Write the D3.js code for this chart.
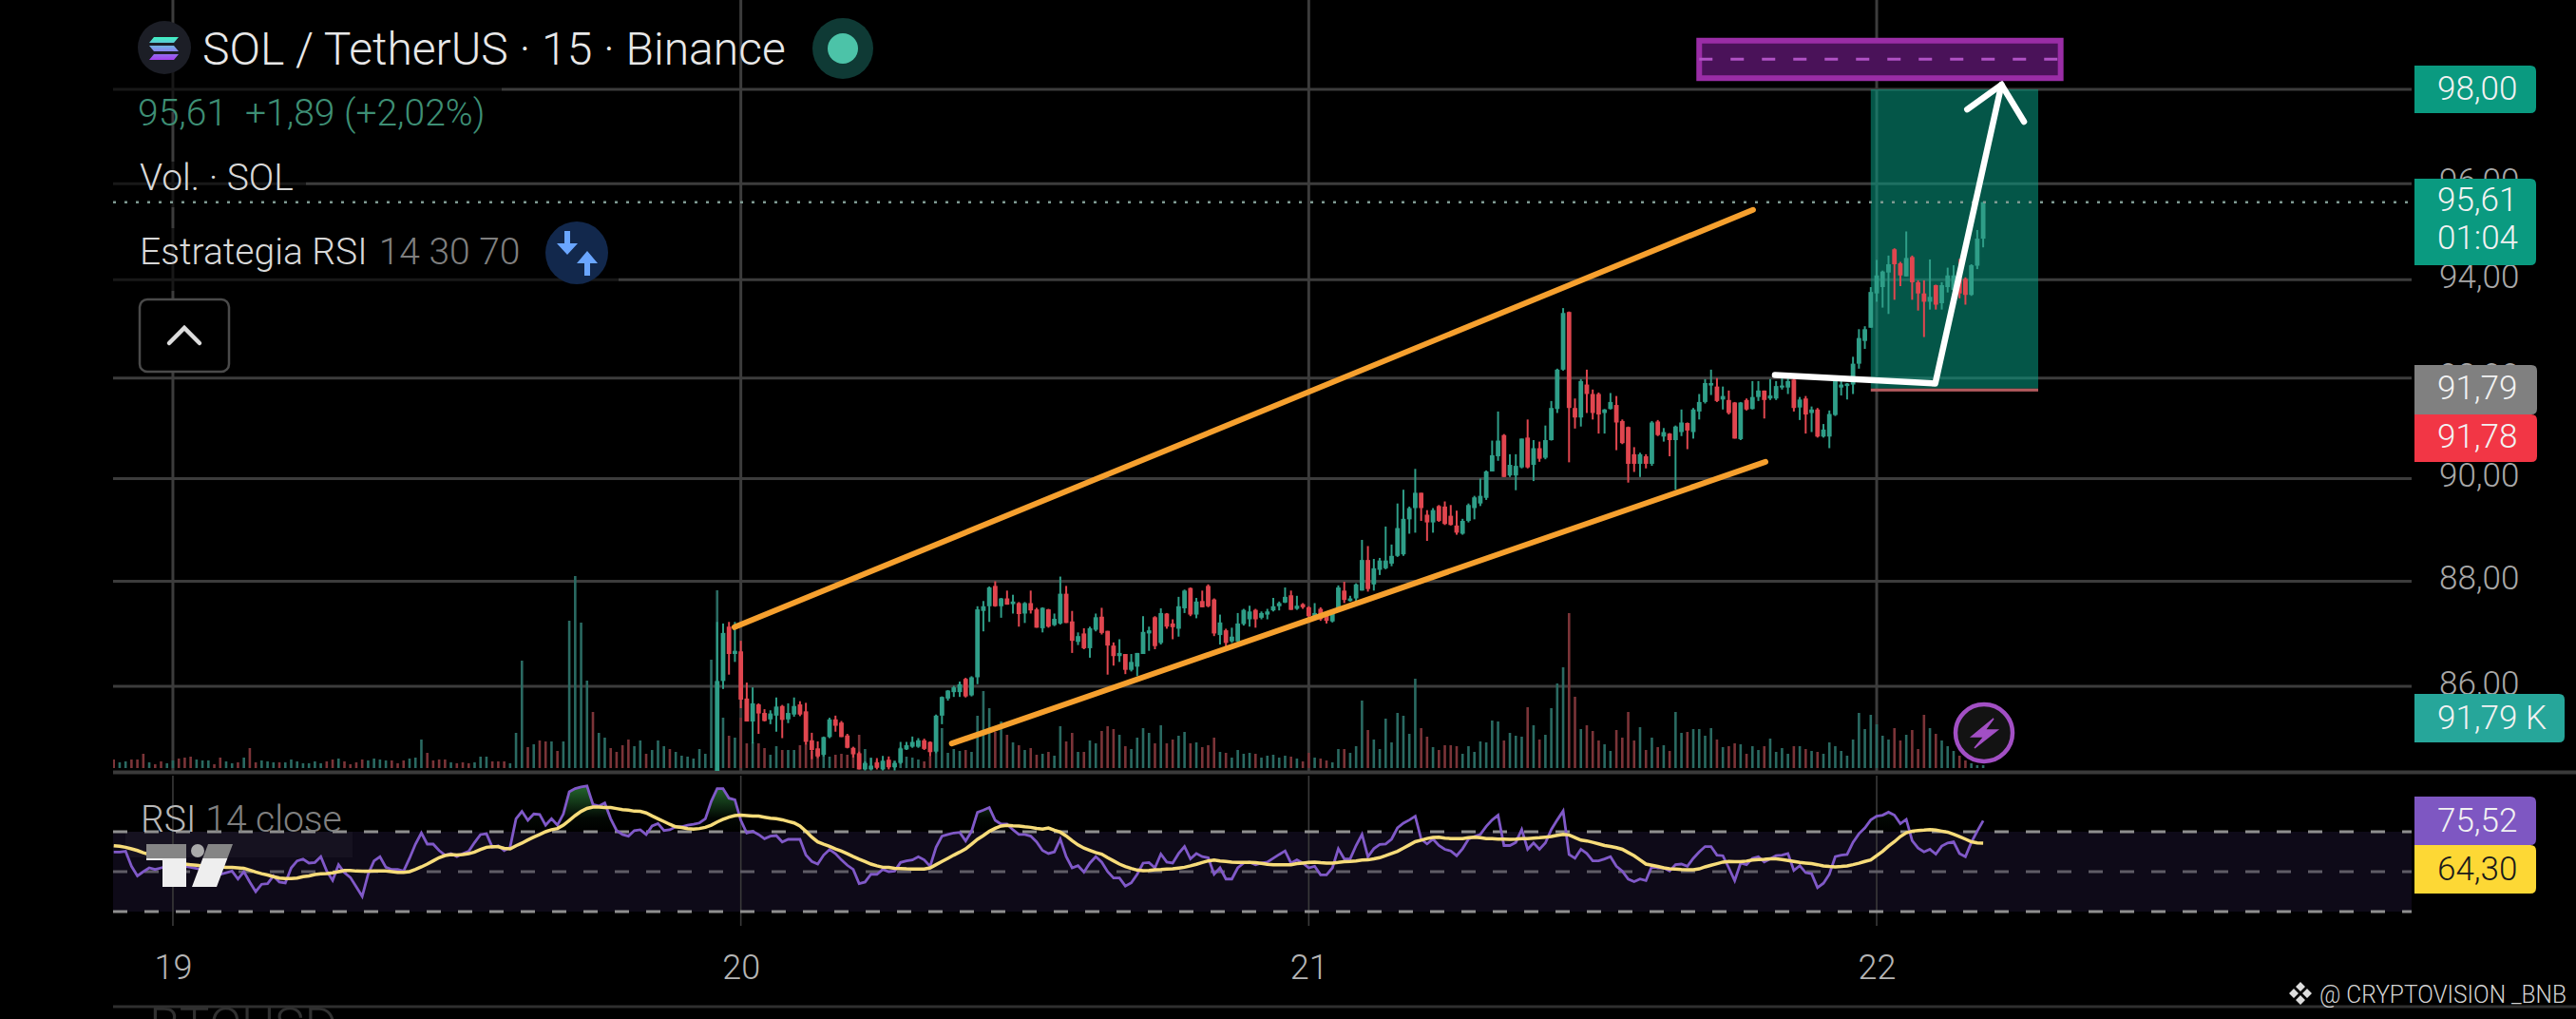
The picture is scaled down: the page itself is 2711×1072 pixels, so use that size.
<!DOCTYPE html>
<html><head><meta charset="utf-8">
<script src="https://cdn.jsdelivr.net/npm/d3@7/dist/d3.min.js"></script>
<style>html,body{margin:0;padding:0;background:#000;overflow:hidden}svg{display:block}text{font-family:Roboto,sans-serif;font-weight:300}</style>
</head><body><svg id="c" width="2711" height="1072"></svg>
<script>
// ---------- data ----------
const dayLabels=["19","20","21","22"];
const dayBars=[10,106,202,298];
const priceTicks=[98,96,94,92,90,88,86];
const firstCandle=102;
const opens=[84.2,86.10,87.13,86.61,86.66,85.77,85.34,85.66,85.5,85.38,85.45,85.63,85.38,85.47,85.66,85.53,84.99,84.84,84.72,85.05,85.38,85.32,85.08,84.85,84.75,84.45,84.45,84.58,84.45,84.63,84.49,84.57,84.82,84.87,84.87,84.99,84.96,84.78,85.45,85.77,85.89,85.89,86.14,85.83,86.17,87.43,87.52,87.91,87.52,87.67,87.56,87.58,87.38,87.58,87.46,87.1,87.46,87.16,87.19,87.76,87.23,86.84,87,86.72,87.07,87.32,87.05,86.77,86.57,86.61,86.31,86.37,
86.61,87,87.31,86.82,87.38,87.19,87.09,87.48,87.87,87.36,87.62,87.91,87.65,86.97,87.06,86.85,86.85,87.18,87.27,87.45,87.3,87.36,87.44,87.52,87.59,87.73,87.47,87.56,87.5,87.3,87.47,87.39,87.23,87.48,87.82,87.62,87.67,87.82,88.41,87.94,88.22,88.25,88.34,88.49,88.52,89.2,89.42,89.72,89.29,89.14,89.46,89.45,89.27,89.08,88.92,89.17,89.42,89.51,89.62,90.14,90.44,90.86,90.06,90.06,90.22,90.81,90.27,90.6,90.41,90.76,91.38,92.17,93.34,91.4,91.21,91.87,91.68,91.68,91.3,91.38,
91.46,91.14,91.02,90.48,90.29,90.44,90.29,91.13,90.83,90.89,90.76,90.92,91.1,90.92,91.33,91.52,91.85,91.83,91.57,91.56,91.51,90.78,91.56,91.38,91.62,91.75,91.59,91.59,91.81,91.81,91.97,91.41,91.59,91.3,91.37,90.83,90.83,91.26,91.81,91.84,91.87,92.29,92.75,
93.02,93.72,93.85,94.15,94.63,94.34,94.07,94.47,93.95,93.72,93.55,93.89,93.52,93.85,93.79,94.02,94.02,93.69,94.29,94.85];
const highs=[87.22,87.19,87.22,87.22,86.86,86.07,85.98,85.68,85.57,85.55,85.79,85.65,85.68,85.79,85.72,85.69,85.13,84.97,85.06,85.41,85.45,85.35,85.11,84.87,84.78,84.6,84.66,84.66,84.7,84.69,84.6,84.96,84.96,85.06,85.03,85.02,84.97,85.47,85.81,85.93,86.01,86.09,86.16,86.19,87.52,87.62,87.9,88,87.68,87.82,87.74,87.6,87.6,87.82,87.49,87.5,87.47,87.38,88.09,87.91,87.43,87.02,87.1,87.13,87.38,87.49,87.05,86.83,86.89,86.61,86.61,86.63,
87.33,87.13,87.33,87.48,87.39,87.27,87.7,87.84,87.88,87.68,87.82,87.94,87.67,87.36,87.09,87.11,87.39,87.47,87.53,87.47,87.42,87.47,87.68,87.61,87.88,87.82,87.72,87.58,87.52,87.58,87.5,87.42,87.45,87.92,87.99,87.72,87.96,88.8,88.68,88.43,88.45,89.06,88.71,89.51,89.78,89.45,90.19,89.72,89.38,89.42,89.48,89.55,89.48,89.37,89.21,89.51,89.66,90,90.16,90.75,91.33,90.88,90.48,90.48,90.79,91.17,90.76,90.73,91.05,91.54,92.19,93.42,93.35,91.59,91.98,92.17,91.77,91.71,91.38,91.7,
91.64,91.17,91.03,90.62,90.51,90.48,91.14,91.16,91,90.9,91.05,91.37,91.11,91.4,91.68,91.98,92.17,92,91.83,91.75,91.52,91.52,91.59,91.94,91.94,91.75,91.98,91.94,92.06,92.08,92,91.62,91.64,91.43,91.4,91.08,91.35,91.98,91.94,91.9,92.43,92.99,93.05,
93.85,94.41,94.19,94.5,94.65,94.37,95,94.5,93.99,93.99,94.42,93.9,93.95,94.25,94.3,94.43,94.05,94.32,95.03,95.61];
const lows=[84.1,85.95,86.22,86.46,85.59,85.34,84.93,85.11,85.34,85.29,85.15,85.03,85.31,85.43,85.44,84.91,84.64,84.66,84.69,85.03,85.15,85.05,84.84,84.67,84.45,84.43,84.43,84.45,84.43,84.45,84.43,84.55,84.81,84.85,84.85,84.81,84.69,84.75,85.29,85.73,85.8,85.8,85.79,85.81,86.04,87.04,87.22,87.51,87.3,87.55,87.38,87.13,87.2,87.38,87.11,87.02,87.11,87.14,87.17,87.2,86.63,86.78,86.7,86.54,87.04,86.98,86.22,86.39,86.46,86.23,86.28,86.19,
86.61,86.67,86.7,86.79,87.09,86.89,86.94,87.39,87.33,87.29,87.5,87.5,86.95,86.79,86.7,86.82,86.83,87.15,87.13,87.11,87.27,87.27,87.42,87.44,87.58,87.45,87.45,87.47,87.27,87.27,87.24,87.19,87.21,87.42,87.58,87.61,87.61,87.82,87.8,87.82,88.12,88.23,88.29,88.47,88.49,88.92,88.94,89.17,88.78,88.94,89.15,89.09,89.08,88.9,88.9,89.14,89.2,89.46,89.58,90.14,90.35,90.03,90.03,89.77,90.2,90.2,89.95,90.33,90.38,90.75,91.3,92.15,90.32,90.99,91.03,91.3,91.17,90.89,90.89,91.37,
90.56,90.68,89.92,90.13,90.03,90.2,90.25,90.84,90.73,90.44,89.78,90.84,90.58,90.79,91.17,91.49,91.66,91.52,91.37,91.27,90.79,90.76,91.35,91.37,91.54,91.19,91.56,91.56,91.77,91.68,91.33,91.16,90.89,90.92,90.81,90.81,90.6,91.24,91.65,91.57,91.68,92.19,92.59,
93.02,93.55,93.43,93.3,93.59,93.87,94.07,93.59,93.37,92.83,93.39,93.39,93.39,93.74,93.75,93.62,93.49,93.67,94.22,94.67];
const closes=[86.10,87.01,86.61,86.67,85.75,85.34,85.68,85.49,85.35,85.49,85.62,85.37,85.5,85.63,85.47,84.96,84.81,84.69,85.05,85.38,85.26,85.05,84.85,84.73,84.45,84.57,84.52,84.48,84.61,84.49,84.57,84.84,84.9,84.96,84.99,84.83,84.77,85.45,85.8,85.92,85.98,86.04,85.81,86.17,87.46,87.52,87.88,87.52,87.67,87.55,87.61,87.37,87.58,87.44,87.11,87.49,87.13,87.28,87.76,87.2,86.86,86.95,86.72,87.1,87.31,87.01,86.77,86.57,86.63,86.31,86.46,86.63,
87.03,87.06,86.76,87.39,87.13,87.12,87.52,87.82,87.36,87.61,87.5,87.52,87,87.21,86.82,86.94,87.19,87.45,87.42,87.27,87.39,87.42,87.52,87.58,87.7,87.45,87.53,87.5,87.33,87.39,87.27,87.24,87.42,87.88,87.64,87.67,87.94,88.41,87.85,88.25,88.4,88.4,88.49,89.03,89.21,89.42,89.72,89.42,89.14,89.38,89.17,89.11,89.09,88.94,89.17,89.48,89.63,89.66,90.14,90.46,90.75,90.03,90.27,90.25,90.79,90.22,90.6,90.39,90.76,91.4,92.17,93.32,91.4,91.21,91.94,91.68,91.3,91.27,91.37,91.52,
91.11,90.7,90.29,90.29,90.48,90.29,91.11,90.86,90.92,90.76,91.03,91.11,90.95,91.37,91.52,91.9,91.9,91.54,91.64,91.3,90.79,91.51,91.37,91.62,91.75,91.56,91.65,91.84,91.85,91.94,91.4,91.57,91.27,91.37,90.83,90.97,91.28,91.95,91.87,91.89,92.29,92.81,92.99,
93.75,94.09,94.17,94.32,94.32,94.09,94.45,93.95,93.72,93.55,93.65,93.49,93.89,94.09,94.09,93.72,93.69,94.3,94.85,95.61];
const earlyDirs="duuddduddu"+"uddduuuddu"+"ududduuudu"+"uuuuuuddud"+"ddduuuuddd"+"uuuddddudd"+"duuuddduuu"+"dudduduuuu"+"uduudddduu"+"duuuduuuuuuu";
const volumes=[9,6,7,9,9,15,6,4,7,5,8,10,11,12,9,8,8,4,11,7,5,6,11,21,6,8,7,6,6,6,9,7,5,5,7,5,7,9,10,7,4,6,9,8,10,9,8,8,5,8,10,11,30,16,8,9,9,6,5,6,5,6,12,12,7,7,7,5,37,113,22,25,29,28,28,18,28,155,202,153,92,59,37,32,21,17,24,30,23,29,15,19,29,23,20,17,13,12,10,20,15,114,187,53,34,32,53,26,27,26,21,14,23,19,19,19,24,26,18,17,19,12,14,15,14,18,35,20,11,8,8,5,8,22,12,11,9,7,12,29,42,16,20,18,19,17,55,81,63,38,49,35,27,24,19,21,14,15,17,13,44,28,37,17,17,29,26,39,44,41,35,23,20,32,42,37,26,45,26,30,34,38,26,27,22,24,32,17,16,11,19,15,16,15,11,13,14,11,13,12,10,7,16,11,10,8,6,20,20,16,23,71,40,30,20,52,27,58,55,36,94,42,33,22,19,24,24,23,15,23,17,28,27,50,49,29,37,34,33,64,45,30,35,63,89,106,163,75,41,45,39,29,25,18,40,32,59,29,43,19,32,22,24,18,59,37,38,41,41,34,42,30,22,23,26,25,15,23,19,23,31,17,21,15,23,23,20,18,17,15,27,23,18,13,30,58,41,56,46,34,30,42,29,35,40,20,56,42,36,29,23,18,13,8,5,3,3];
const rsiValues=[59.8,59.8,60.2,52.7,47.9,50,51.9,51.1,51.9,52.7,52.7,51.9,52.7,52.2,51.6,51.1,50.6,50,48.7,49.5,50.3,46.3,50,44.8,40,43.7,44,47.9,44.8,44.3,51.9,55.4,56.3,54.3,54.6,57.5,50.3,45.6,53.5,49.5,47.1,42.4,37.6,48.7,55.4,57.5,52.2,51.1,51.1,50.3,56.7,63.8,69.4,63.8,63.8,60.6,58.3,59,57.5,59,60.2,64.6,68.6,69,62.2,63,60.6,62.2,76.5,80.2,75.7,78.9,78.6,73.3,76.5,73.3,78.9,90,91.6,92.4,92.9,83.7,82.9,84.4,76.5,70.6,68.6,67.8,70.6,71,68.6,72.9,74.1,70.6,71,72.5,72.5,73.3,73.8,74.4,76.5,85.2,91.6,91.6,86.8,86,75.7,69.4,70.2,68.6,66.5,67.8,68.1,64.9,66.2,66.2,66.2,58.3,55.1,53.8,58.3,61.1,59,55.9,53.2,51.1,44,44.8,48.7,48.7,51.1,50,50.3,54.6,55.4,55.9,57.5,55.9,52.7,62.2,67.8,68.6,69.4,69.7,65.4,70.2,79.7,80.8,82.1,75.7,73.8,73.8,71,68.6,68.6,67.8,64.9,60.6,
59.1,59.9,66.3,57.5,51.9,53,49.8,54.3,57.5,54.8,50,46.8,46.8,42.8,44.4,48.7,54.3,54.6,51.9,58.8,54.8,54.3,59.1,62.6,56.4,59.1,57.5,57,48.7,51.9,46.3,46.3,51.9,54.3,54.8,53.5,54.3,54.8,56.7,58.6,60.4,54.3,55.9,54.3,51.9,52.7,48.4,48.4,51.9,61.5,56.4,56.4,63.1,68.7,57.5,61.5,63.6,63.9,66.3,71.9,74.3,75.9,77.8,66.3,63.9,66.3,63.1,61.2,60.4,58,61.5,66.3,67.6,68.7,72.7,75.9,78.3,63.1,63.1,64.7,71.1,61.2,64.4,61.2,64.4,71.1,75.9,80.4,58.6,56.7,61.2,59.1,55.4,55.4,56.4,57.5,52.7,50.3,46.3,45,46.3,45.5,52.7,51.9,51.9,50.3,53.5,53.8,52.7,56.7,59.9,62.6,62.6,58.3,58,51.9,45.5,54.3,53.5,56.7,57.5,54.8,56.4,58,58.3,59.1,50.6,53,49.5,49,42,44.2,48.7,57.5,58.3,58.6,64.7,69,71.9,75.9,77.8,78.3,79.8,78.3,74,76.2,65.5,61.8,59.9,61.2,58.8,62.8,64.4,65,59.1,57.5,64.7,70.3,75.52];
const rsiAverage=[63,62.7,62.2,61.4,60.6,59.5,58.6,57.6,56.7,55.7,54.8,54.1,53.8,53.5,53.2,52.9,52.7,52.5,52.4,52.2,52.1,51.9,51.7,50.8,49.8,49,48.3,47.5,46.8,46.5,46.5,46.8,47.5,47.9,48.6,48.9,49,49.4,50,50.6,50.6,50.3,50.2,50.2,50.3,50.3,50.3,50,49.7,49.7,50,51.1,52.4,53.8,55.4,57,58.1,58.6,58.3,58.6,59,59.8,61.1,62.2,62.5,62.5,61.7,61.4,63,64.3,65.9,67.3,68.6,70,71,71.6,73.3,75.7,78.1,80.2,81.7,82.4,82.4,82.2,82.1,81.6,81.1,80.8,80.3,80.2,79.4,77.9,76.5,75.1,73.7,72.5,72.1,71.6,71.3,71.6,72.2,73.3,74.9,76.2,77.3,78.1,78.3,78.1,77.9,77.8,77.3,76.8,76.5,76,75.2,74.4,72.9,70.2,67.3,64.9,63.7,62.7,61.4,60.3,59,57.6,56.3,55.1,53.8,52.9,52.2,52.1,51.7,51.6,51.4,51.3,51.3,51.3,51.9,53.5,55.1,56.7,58.3,59.8,61.4,63.8,66.2,68.1,70.2,71.7,72.9,73.2,73,72.9,72.5,72.2,71.7,71.3,
71.9,70.8,69.8,67.9,65.5,63.4,61.8,60.7,59.6,58.8,57,55.4,53.8,52.6,51.6,50.8,50.5,50.6,51,51.1,51.3,51.4,51.8,52.2,52.9,53.7,54.6,55.4,55.8,55.4,55.1,54.8,54.6,54.6,54.6,54.5,54.2,53.7,53.5,53.5,53.5,53.5,54,54.3,54.6,54.8,54.5,54.3,54.3,54.6,55,55.1,55.4,55.8,55.9,56.4,57,58,59.1,60.2,61.8,63.4,65,65.8,66.6,67.1,67.3,66.8,66.6,66.5,66.6,67,67.3,67,66.6,66.5,66.3,66.3,66.2,66.3,66.6,66.6,66.8,67,67.3,67.6,68.2,68.7,68.4,67.1,65.8,65.4,64.7,63.9,63.1,62.6,62,61.2,59.6,58,55.9,53.8,53.2,52.6,51.9,51.4,51.3,51.1,51,51,51.4,52.4,53.2,54,54.8,55.1,55,55,55.3,55.8,56.1,56.2,56.4,56.4,56.1,55.6,55.1,54.6,54.3,54,53.5,52.9,52.6,52.4,52.6,52.9,53.5,54.2,55.1,55.9,58,60.2,62.8,65,67.6,69.5,70.3,70.6,70.8,71.1,70.8,70.3,69.8,68.7,67.6,66.3,65,64.4,64.3];
const rsiLevels=[70,50,30];
const lastPrice=95.61,targetPrice=98,entryPrice=91.79,stopPrice=91.73;
const channelUpper=[[104.93,87.12],[277.1,95.45]];
const channelLower=[[141.66,84.93],[279.2,90.33]];
const whitePath=[[280.8,92.06],[307.9,91.89],[319.1,98.10]];
const arrowWings=[[313.3,97.57],[319.1,98.10],[322.9,97.31]];
const targetZone={x:[268,329.1],price:[99.05,98.24],mid:98.65};
const positionBars=[297,325.3];

// ---------- scales ----------
const svg=d3.select("#c");
const L=119,R=2538;
const x=d3.scaleLinear().domain([0,316]).range([119.7,2087.1]);
const y=d3.scaleLog().domain([86,98]).range([722,94]);
const vol=d3.scaleLinear().domain([0,100]).range([808,708]);
const rsi=d3.scaleLinear().domain([30,70]).range([959,875]);
const comma=v=>d3.format(".2f")(v).replace(".",",");
const UP="#2f9e88",DOWN="#e0464f",VUP="#2a6a62",VDN="#7b3438",GRID="#3c3c3c";
const defs=svg.append("defs");
defs.append("clipPath").attr("id","pricePane").append("rect").attr("x",L).attr("y",0).attr("width",R-L).attr("height",811);
defs.append("clipPath").attr("id","above70").append("rect").attr("x",L).attr("y",815).attr("width",R-L).attr("height",rsi(70)-815);
const g=defs.append("linearGradient").attr("id","obGrad").attr("gradientUnits","userSpaceOnUse").attr("x1",0).attr("x2",0).attr("y1",rsi(93)).attr("y2",rsi(70));
[[0,.85],[.4,.4],[.7,.06],[1,0]].forEach(s=>g.append("stop").attr("offset",s[0]).attr("stop-color","#2a7a36").attr("stop-opacity",s[1]));
const tv=defs.append("linearGradient").attr("id","tvGrad").attr("gradientUnits","userSpaceOnUse").attr("x1",0).attr("x2",0).attr("y1",888).attr("y2",933);
tv.append("stop").attr("offset",".33").attr("stop-color","#858585");tv.append("stop").attr("offset",".33").attr("stop-color","#eee");
const sg=defs.append("linearGradient").attr("id","solGrad").attr("x1",0).attr("x2",0).attr("y1",0).attr("y2",1);
sg.append("stop").attr("offset","0").attr("stop-color","#3ef3c0");sg.append("stop").attr("offset",".5").attr("stop-color","#7f9bea");sg.append("stop").attr("offset","1").attr("stop-color","#a63ff0");

// ---------- grid + axes ----------
svg.append("rect").attr("width",2711).attr("height",1072).attr("fill","#000");
const vAxis=d3.axisBottom(x).tickValues(dayBars).tickFormat((d,i)=>dayLabels[i]).tickSize(0);
const ga=svg.append("g").attr("transform","translate(0,1030)").call(vAxis);
ga.select(".domain").remove();
ga.selectAll("text").attr("y",0).attr("dy",0).attr("font-size",36).attr("fill","#b5b5b5").attr("text-anchor","middle");
svg.append("g").selectAll("line").data(dayBars).join("line").attr("x1",d=>x(d)).attr("x2",d=>x(d)).attr("y1",0).attr("y2",811).attr("stroke",GRID).attr("stroke-width",3);
const pAxis=d3.axisRight(y).tickValues(priceTicks).tickFormat(comma).tickSize(0);
const gp=svg.append("g").attr("transform",`translate(${R},0)`).call(pAxis);
gp.select(".domain").remove();
gp.selectAll("text").attr("x",29).attr("dy",".24em").attr("font-size",35).attr("fill","#a8a8a8");
svg.append("g").selectAll("line").data(priceTicks).join("line").attr("x1",L).attr("x2",R).attr("y1",d=>y(d)).attr("y2",d=>y(d)).attr("stroke",GRID).attr("stroke-width",3);
// pane separators
svg.append("line").attr("x1",L).attr("x2",2711).attr("y1",812.5).attr("y2",812.5).attr("stroke","#3a3a3a").attr("stroke-width",4);
svg.append("line").attr("x1",L).attr("x2",2711).attr("y1",1059).attr("y2",1059).attr("stroke","#2f2f2f").attr("stroke-width",3);
// clipped legend of the pane below
svg.append("text").attr("x",157).attr("y",1098).attr("font-size",53).attr("fill","#303030").text("BTCUSD");

// ---------- legend dimmers ----------
[[70,118,528],[170,218,322],[240,306,651]].forEach(r=>svg.append("rect").attr("x",L).attr("y",r[0]).attr("width",r[2]-L).attr("height",r[1]-r[0]).attr("fill","#000").attr("opacity",.6));

// ---------- position box ----------
const pos=svg.append("g");
pos.append("rect").attr("x",x(positionBars[0])).attr("width",x(positionBars[1])-x(positionBars[0])).attr("y",y(targetPrice)).attr("height",y(entryPrice)-y(targetPrice)).attr("fill","#089981").attr("opacity",.56);
pos.append("rect").attr("x",x(positionBars[0])).attr("width",x(positionBars[1])-x(positionBars[0])).attr("y",y(entryPrice)).attr("height",y(stopPrice)-y(entryPrice)).attr("fill","#b25a5d");

// ---------- volume + candles ----------
const pane=svg.append("g").attr("clip-path","url(#pricePane)");
const isUp=i=>i<firstCandle?earlyDirs[i]==="u":closes[i-firstCandle]>=opens[i-firstCandle];
pane.append("g").selectAll("rect").data(volumes).join("rect")
  .attr("x",(d,i)=>x(i)-1.3).attr("width",2.6).attr("y",d=>vol(d)).attr("height",d=>vol(0)-vol(d))
  .attr("fill",(d,i)=>isUp(i)?VUP:VDN);
const idx=d3.range(opens.length);
const cg=pane.append("g");
cg.selectAll("line").data(idx).join("line").attr("x1",i=>x(i+firstCandle)).attr("x2",i=>x(i+firstCandle))
  .attr("y1",i=>y(highs[i])).attr("y2",i=>y(lows[i])).attr("stroke-width",2)
  .attr("stroke",i=>closes[i]>=opens[i]?UP:DOWN);
cg.selectAll("rect").data(idx).join("rect").attr("x",i=>x(i+firstCandle)-2.4).attr("width",4.8)
  .attr("y",i=>y(Math.max(opens[i],closes[i]))).attr("height",i=>Math.max(1.5,Math.abs(y(opens[i])-y(closes[i]))))
  .attr("fill",i=>closes[i]>=opens[i]?UP:DOWN);

// ---------- last price dotted ----------
svg.append("line").attr("x1",L).attr("x2",R).attr("y1",y(lastPrice)).attr("y2",y(lastPrice)).attr("stroke","#7f9a92").attr("stroke-width",2.5).attr("stroke-dasharray","3 9");

// ---------- drawings ----------
const seg=d3.line().x(d=>x(d[0])).y(d=>y(d[1]));
[channelUpper,channelLower].forEach(l=>svg.append("path").attr("d",seg(l)).attr("fill","none").attr("stroke","#f6a02e").attr("stroke-width",6).attr("stroke-linecap","round"));
svg.append("path").attr("d",seg(whitePath)).attr("fill","none").attr("stroke","#fff").attr("stroke-width",6.5).attr("stroke-linejoin","round").attr("stroke-linecap","round");
svg.append("path").attr("d",seg(arrowWings)).attr("fill","none").attr("stroke","#fff").attr("stroke-width",6.5).attr("stroke-linejoin","miter").attr("stroke-linecap","round");
svg.append("rect").attr("x",x(targetZone.x[0])).attr("width",x(targetZone.x[1])-x(targetZone.x[0])).attr("y",y(targetZone.price[0])).attr("height",y(targetZone.price[1])-y(targetZone.price[0]))
  .attr("fill","#4a1259").attr("stroke","#9a2da6").attr("stroke-width",6);
svg.append("line").attr("x1",x(targetZone.x[0])).attr("x2",x(targetZone.x[1])).attr("y1",y(targetZone.mid)).attr("y2",y(targetZone.mid)).attr("stroke","#b052c4").attr("stroke-width",3).attr("stroke-dasharray","14 19");

// ---------- RSI ----------
const rp=svg.append("g");
rp.append("rect").attr("x",L).attr("width",R-L).attr("y",rsi(70)).attr("height",rsi(30)-rsi(70)).attr("fill","#0e0a18");
rp.append("rect").attr("x",132).attr("y",875).attr("width",239).attr("height",27).attr("fill","#fff").attr("opacity",.035);
rp.selectAll("line.d").data(dayBars).join("line").attr("class","d").attr("x1",d=>x(d)).attr("x2",d=>x(d)).attr("y1",816).attr("y2",974).attr("stroke","#3a3a3a").attr("stroke-width",1.6);
rp.selectAll("line.l").data(rsiLevels).join("line").attr("class","l").attr("x1",L).attr("x2",R).attr("y1",d=>rsi(d)).attr("y2",d=>rsi(d))
  .attr("stroke",d=>d===50?"#5f5c66":"#8f8f8f").attr("stroke-width",3).attr("stroke-dasharray","15 18");
const rsiArea=d3.area().x((d,i)=>x(i)).y0(rsi(70)).y1(d=>rsi(d));
rp.append("path").attr("clip-path","url(#above70)").attr("d",rsiArea(rsiValues)).attr("fill","url(#obGrad)");
const rsiLine=d3.line().x((d,i)=>x(i)).y(d=>rsi(d));
rp.append("path").attr("d",rsiLine(rsiValues)).attr("fill","none").attr("stroke","#8059c8").attr("stroke-width",2.8);
rp.append("path").attr("d",rsiLine(rsiAverage)).attr("fill","none").attr("stroke","#f7dc7a").attr("stroke-width",3.5);

// ---------- TV logo ----------
svg.append("path").attr("d","M154 888H196V933H171V905H154Z M245 888L228 933H202L219 888Z").attr("fill","url(#tvGrad)");
svg.append("circle").attr("cx",208).attr("cy",895).attr("r",7).attr("fill","#aaa");

// ---------- price tags ----------
function tag(y0,y1,x1,fill,txt,tc){
  svg.append("path").attr("d",`M2541 ${y0}H${x1-6}Q${x1} ${y0} ${x1} ${y0+6}V${y1-6}Q${x1} ${y1} ${x1-6} ${y1}H2541Z`).attr("fill",fill);
  txt.forEach(t=>svg.append("text").attr("x",2565).attr("y",t[1]).attr("font-size",35).attr("fill",tc||"#f2f2f2").text(t[0]));
}
tag(69,119,2669,"#0a9a80",[[comma(targetPrice),105]]);
tag(188,279,2669,"#0a9a80",[[comma(lastPrice),222],["01:04",262]]);
tag(384,436,2670,"#808080",[[comma(91.79),420]]);
tag(436,486,2670,"#f23645",[[comma(91.78),471]]);
tag(730,781,2699,"#26a69a",[[comma(91.79)+" K",767]]);
tag(838,889,2669,"#7e57c2",[[comma(rsiValues[rsiValues.length-1]),875]]);
tag(889,940,2669,"#fdd835",[[comma(64.30),926]],"#1a1a1a");

// ---------- header ----------
svg.append("circle").attr("cx",173).attr("cy",50).attr("r",28).attr("fill","#1c1e26");
svg.append("path").attr("d","M162 39H188L183 45H157Z M157 48H183L188 54H162Z M162 57H188L183 63H157Z").attr("fill","url(#solGrad)");
svg.append("text").attr("x",213).attr("y",68).attr("font-size",48).attr("fill","#e8e8e8").text("SOL / TetherUS · 15 · Binance");
svg.append("circle").attr("cx",887).attr("cy",51).attr("r",32).attr("fill","#0f3a35");
svg.append("circle").attr("cx",887).attr("cy",51).attr("r",16).attr("fill","#4cc3a8");
svg.append("text").attr("x",145).attr("y",132).attr("font-size",39).attr("fill","#3e8f75").attr("xml:space","preserve").text("95,61  +1,89 (+2,02%)");
svg.append("text").attr("x",147).attr("y",200).attr("font-size",39).attr("fill","#d8d8d8").text("Vol. · SOL");
const st=svg.append("text").attr("x",147).attr("y",278).attr("font-size",39).attr("fill","#d8d8d8");
st.append("tspan").text("Estrategia RSI");
st.append("tspan").attr("dx",12).attr("fill","#7f7f7f").text("14 30 70");
svg.append("circle").attr("cx",607).attr("cy",266).attr("r",33).attr("fill","#12284c");
svg.append("path").attr("d","M594 243H600V256H608L597 268L586 256H594Z M618 264L629 277H621V290H615V277H607Z").attr("fill","#6aa6ff");
svg.append("rect").attr("x",147).attr("y",315).attr("width",94).attr("height",76).attr("rx",8).attr("fill","#000").attr("stroke","#4a4a4a").attr("stroke-width",2.5);
svg.append("path").attr("d","M178 361L194 345L210 361").attr("fill","none").attr("stroke","#ddd").attr("stroke-width",4.5).attr("stroke-linecap","round");
const rl=svg.append("text").attr("x",148).attr("y",875).attr("font-size",39).attr("fill","#b8b8b8");
rl.append("tspan").text("RSI");rl.append("tspan").attr("dx",10).attr("fill","#808080").text("14 close");

// ---------- lightning + watermark ----------
svg.append("circle").attr("cx",2088).attr("cy",771).attr("r",30).attr("fill","#131313").attr("stroke","#a24fc4").attr("stroke-width",4.5);
svg.append("path").attr("d","M2098 756L2075 775H2088L2078 787L2102 768H2089Z").attr("fill","#a24fc4").attr("stroke","#a24fc4").attr("stroke-width",1.5);
svg.append("path").attr("d","M2421 1033L2426 1038L2421 1043L2416 1038Z M2421 1047L2426 1052L2421 1057L2416 1052Z M2414 1040L2419 1045L2414 1050L2409 1045Z M2428 1040L2433 1045L2428 1050L2423 1045Z").attr("fill","#ddd");
svg.append("text").attr("x",2441).attr("y",1055).attr("font-size",26).attr("fill","#d4d4d4").attr("textLength",260).attr("lengthAdjust","spacingAndGlyphs").text("@ CRYPTOVISION _BNB");
</script></body></html>
